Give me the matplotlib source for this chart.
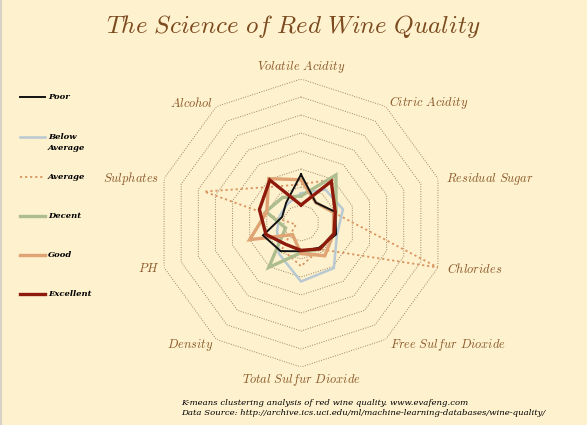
import numpy as np
import matplotlib.pyplot as plt
from matplotlib.lines import Line2D

plt.rcParams['mathtext.fontset'] = 'cm'

categories = ['Volatile Acidity', 'Citric Acidity', 'Residual Sugar', 'Chlorides',
              'Free Sulfur Dioxide', 'Total Sulfur Dioxide', 'Density', 'PH',
              'Sulphates', 'Alcohol']

# cluster profiles (ring units 0-8)
poor = [2.7, 1.4, 2.0, 2.05, 1.7, 1.57, 1.93, 2.22, 1.1, 1.4]
below_average = [1.65, 2.3, 2.45, 2.1, 3.1, 3.25, 2.1, 1.4, 1.25, 1.3]
average = [2.15, 3.0, 1.9, 8.0, 1.8, 2.4, 1.8, 0.3, 5.65, 2.5]
decent = [1.5, 3.3, 2.05, 1.9, 1.8, 1.65, 3.05, 0.9, 2.05, 1.75]
good = [2.4, 1.4, 1.9, 1.9, 2.25, 1.7, 0.8, 3.0, 2.0, 3.05]
excellent = [1.0, 2.86, 2.0, 1.93, 1.78, 1.52, 1.46, 2.05, 2.43, 2.95]

series_names = ['Poor', 'Below\nAverage', 'Average', 'Decent', 'Good', 'Excellent']
rings = [1, 2, 3, 4, 5, 6, 7, 8]

bg = '#fef1ce'
brown = '#8b5a2b'
styles = {
    'Poor': dict(color='#111111', lw=1.4, ls='-'),
    'Below\nAverage': dict(color='#b9c9d2', lw=1.8, ls='-'),
    'Average': dict(color='#d9935e', lw=1.3, ls=(0, (1.2, 1.6))),
    'Decent': dict(color='#aebd8e', lw=2.4, ls='-'),
    'Good': dict(color='#e0a373', lw=2.4, ls='-'),
    'Excellent': dict(color='#8e1a0c', lw=2.4, ls='-'),
}
values = dict(zip(series_names, [poor, below_average, average, decent, good, excellent]))

n = len(categories)
angles = np.arange(n) * 2 * np.pi / n
closed = np.append(angles, angles[0])

fig = plt.figure(figsize=(5.87, 4.25), dpi=100, facecolor=bg)
ax = fig.add_axes([0.2675, 0.1365, 0.4906, 0.6776], projection='polar')
ax.set_facecolor('none')
ax.set_theta_offset(np.pi / 2)
ax.set_theta_direction(-1)
ax.set_ylim(0, 8)
ax.axis('off')

for r in rings:
    ax.plot(closed, [r] * (n + 1), color='#9c8466', lw=0.7, ls=(0, (1, 1.5)), zorder=1)

draw_order = ['Average', 'Below\nAverage', 'Decent', 'Good', 'Poor', 'Excellent']
for i, name in enumerate(draw_order):
    v = values[name]
    ax.plot(closed, v + v[:1], zorder=2 + i, solid_joinstyle='miter', **styles[name])

# label placement: (ha, dx px, dy px)
label_pos = [('center', 0, 12), ('left', 3, 4), ('left', 8, 0), ('left', 9, -1.5),
             ('left', 4, -6), ('center', 0, -13), ('right', -3, -6), ('right', -5, -1.5),
             ('right', -5, 0), ('right', -3, 4)]
for ang, lab, (ha, dx, dy) in zip(angles, categories, label_pos):
    ax.annotate(r'$\mathit{' + lab.replace(' ', r'\ ') + '}$', xy=(ang, 8),
                xytext=(dx * 0.72, dy * 0.72), textcoords='offset points',
                ha=ha, va='center', fontsize=9, color=brown, annotation_clip=False)

fig.text(0.50, 1 - 26 / 425, r'$\mathit{The\ Science\ of\ Red\ Wine\ Quality}$',
         ha='center', va='center', fontsize=18, color='#7b4a1e')

# legend on the left
leg_y = [97, 137, 177, 216, 255, 294]
for name, y in zip(series_names, leg_y):
    st = styles[name]
    yf = 1 - y / 425
    fig.add_artist(Line2D([20 / 587, 45 / 587], [yf, yf], color=st['color'],
                          lw=st['lw'], ls=st['ls']))
    fig.text(48 / 587, yf + 4 / 425, name, ha='left', va='top', fontsize=6,
             family='DejaVu Serif', style='italic', weight='bold', linespacing=1.5)

fig.text(181 / 587, 1 - 403 / 425, 'K-means clustering analysis of red wine quality. www.evafeng.com',
         ha='left', va='center', fontsize=6.1, family='DejaVu Serif', style='italic')
fig.text(181 / 587, 1 - 413 / 425,
         'Data Source: http://archive.ics.uci.edu/ml/machine-learning-databases/wine-quality/',
         ha='left', va='center', fontsize=6.1, family='DejaVu Serif', style='italic')

fig.add_artist(Line2D([0.002, 0.002], [0, 1], color='#d9d3c6', lw=1.5))

fig.savefig('out.png', dpi=100, facecolor=bg)
